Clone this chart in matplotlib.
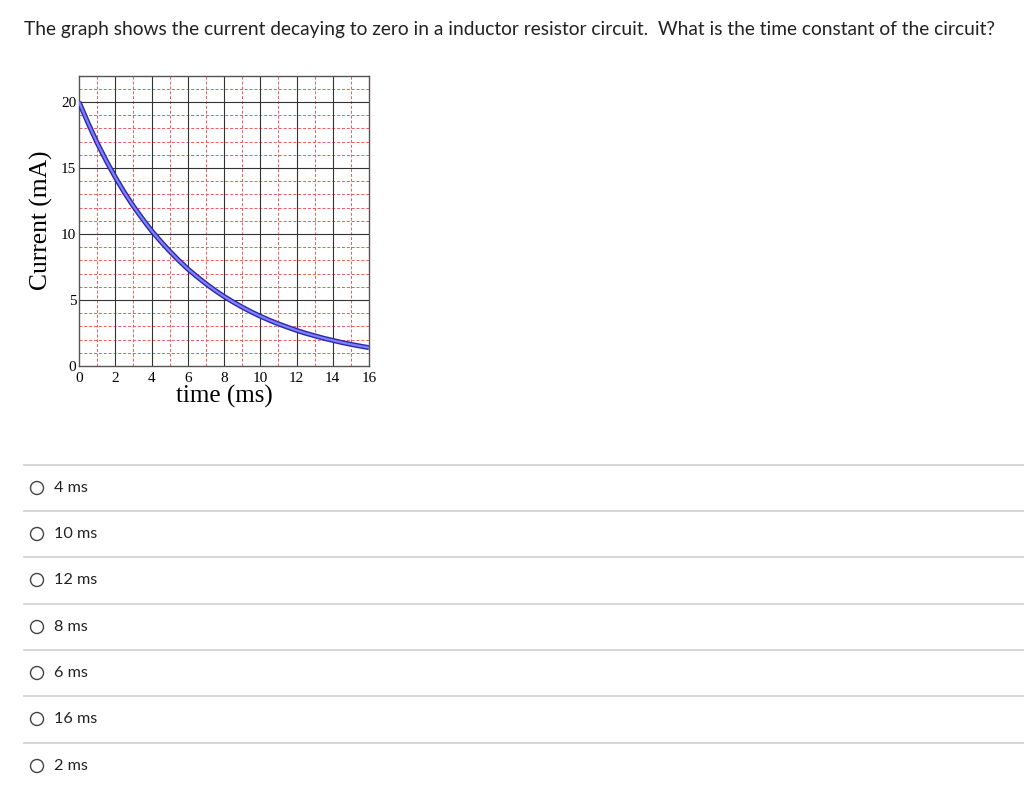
import matplotlib
matplotlib.use("Agg")
import matplotlib.pyplot as plt
import matplotlib.patheffects as pe
from matplotlib.lines import Line2D
from matplotlib.patches import Circle

question = "The graph shows the current decaying to zero in a inductor resistor circuit.  What is the time constant of the circuit?"
time_ms = [0, 0.5, 1, 1.5, 2, 2.5, 3, 3.5, 4, 4.5, 5, 5.5, 6, 6.5, 7, 7.5, 8,
           8.5, 9, 9.5, 10, 10.5, 11, 11.5, 12, 12.5, 13, 13.5, 14, 14.5, 15, 15.5, 16]
current_mA = [20.0, 18.4, 16.9, 15.55, 14.3, 13.15, 12.1, 11.15, 10.25, 9.45, 8.7, 8.0,
              7.35, 6.78, 6.23, 5.73, 5.27, 4.85, 4.46, 4.1, 3.77, 3.47, 3.19, 2.94,
              2.7, 2.48, 2.29, 2.1, 1.94, 1.78, 1.64, 1.51, 1.39]
x_ticks = [0, 2, 4, 6, 8, 10, 12, 14, 16]
y_ticks = [0, 5, 10, 15, 20]
options = ["4 ms", "10 ms", "12 ms", "8 ms", "6 ms", "16 ms", "2 ms"]

W, H = 1024, 797
fig = plt.figure(figsize=(W / 100, H / 100), dpi=100)
fig.patch.set_facecolor("white")

def fx(px):
    return px / W

def fy(py):
    return 1 - py / H

# Question text
fig.text(fx(24), fy(29), question, fontsize=13.8, family="Lato", color="#222222",
         va="center", ha="left")

# Chart axes
ax = fig.add_axes([fx(79), fy(366), fx(369) - fx(79), fy(75.5) - fy(366)])
ax.set_xlim(0, 16)
ax.set_ylim(0, 22)
serif = "Liberation Serif"

# minor red dashed grid
for xv in range(1, 16, 2):
    ax.axvline(xv, color="#f25a5a", lw=0.7, ls=(0, (3, 2)), zorder=1)
for yv in range(1, 22):
    if yv % 5 != 0:
        ax.axhline(yv, color="#f25a5a", lw=0.7, ls=(0, (3, 2)), zorder=1)
# major black grid
for xv in range(2, 16, 2):
    ax.axvline(xv, color="#333333", lw=0.8, zorder=2)
for yv in range(5, 21, 5):
    ax.axhline(yv, color="#333333", lw=0.8, zorder=2)

ax.plot(time_ms, current_mA, color="#8080ff", lw=1.6, zorder=5,
        path_effects=[pe.Stroke(linewidth=3.6, foreground="#2a2aa8"), pe.Normal()],
        solid_capstyle="butt", solid_joinstyle="round")

for s in ax.spines.values():
    s.set_color("#555555")
    s.set_linewidth(1.0)
ax.tick_params(length=0)
ax.tick_params(axis="x", pad=4)
ax.tick_params(axis="y", pad=2)
ax.set_xticks(x_ticks)
ax.set_xticklabels([str(v) for v in x_ticks], family=serif, fontsize=11)
ax.set_yticks(y_ticks)
ax.set_yticklabels([str(v) for v in y_ticks], family=serif, fontsize=11)
for lbl in ax.get_yticklabels():
    if lbl.get_text() == "0":
        lbl.set_y(0.9)
ax.set_xlabel("time (ms)", family=serif, fontsize=18, labelpad=0)
ax.set_ylabel("Current (mA)", family=serif, fontsize=18.4, labelpad=6)

# Options list
sep_y = [465, 511, 557, 604, 650, 696, 743]
for i, opt in enumerate(options):
    ly = sep_y[i]
    fig.add_artist(Line2D([fx(24), fx(1024)], [fy(ly), fy(ly)], color="#d0d0d0", lw=1.2))
    ty = ly + 23
    circ = Circle((37, H - ty), 6.5, transform=None, fill=False, edgecolor="#444444", lw=1.0)
    fig.add_artist(circ)
    fig.text(fx(54), fy(ty), opt, fontsize=11.7, family="Lato", color="#222222",
             va="center", ha="left")

fig.savefig("out.png", dpi=100, facecolor="white")
